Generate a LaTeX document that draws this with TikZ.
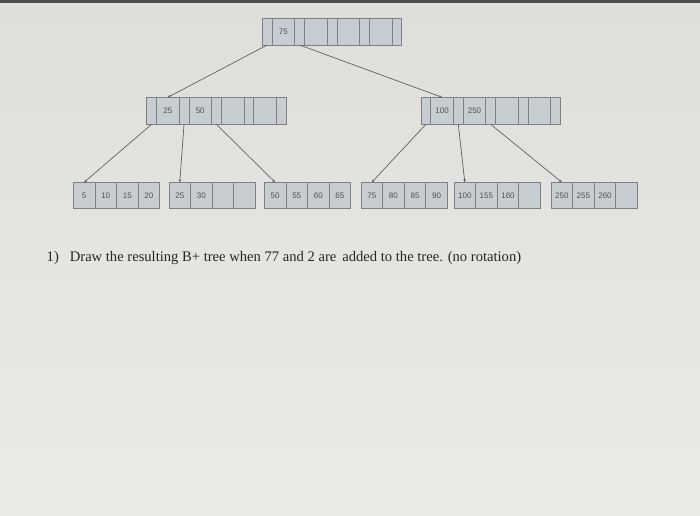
\documentclass[tikz,border=0pt]{standalone}
\usepackage{fontspec}
\setmainfont{Liberation Serif}
\newfontfamily\cellfont{Liberation Sans}
\usetikzlibrary{positioning,arrows.meta}

\definecolor{paper}{RGB}{222,222,218}
\definecolor{paperlow}{RGB}{234,234,231}
\definecolor{cellfill}{RGB}{200,205,210}
\definecolor{celledge}{RGB}{125,128,132}
\definecolor{inkgray}{RGB}{80,80,80}

% inner node: pointer, key, pointer, ... (name, x, y, keys)
\newcommand{\innernode}[4]{%
  \node[ptrcell,anchor=north west] (#1-p0) at (#2,#3) {};
  \foreach \k [count=\j, remember=\j as \lastj (initially 0)] in {#4} {
    \node[keycell,right=0pt of #1-p\lastj] (#1-k\j) {\k};
    \node[ptrcell,right=0pt of #1-k\j] (#1-p\j) {};
  }
}
% leaf node: four keys (name, x, y, keys)
\newcommand{\leafnode}[4]{%
  \foreach \k [count=\j, remember=\j as \lastj (initially 0)] in {#4} {
    \ifnum\j=1 \node[leafcell,anchor=north west] (#1-1) at (#2,#3) {\k};
    \else \node[leafcell,right=0pt of #1-\lastj] (#1-\j) {\k}; \fi
  }
}

\begin{document}
\begin{tikzpicture}[x=1pt,y=-1pt,inner sep=0pt,outer sep=0pt,
cell/.style={draw=celledge,fill=cellfill,rectangle,line width=0.8pt,text=inkgray,font=\cellfont\fontsize{8}{9}\selectfont},
ptrcell/.style={cell,minimum width=9.8pt,minimum height=27pt},
keycell/.style={cell,minimum width=22.6pt,minimum height=27pt},
leafcell/.style={cell,minimum width=21.6pt,minimum height=26.5pt},
link/.style={draw=inkgray!90,line width=0.7pt,-{Stealth[length=3pt,width=2.6pt]}}]

\useasboundingbox (0,0) rectangle (700,515);
\fill[top color=paper,bottom color=paperlow] (0,0) rectangle (700,515);
\fill[black!70] (0,0) rectangle (700,2.5);

% index levels
\innernode{root}{262.3}{18}{75,{},{},{}}
\innernode{inl}{146.7}{97.3}{25,50,{},{}}
\innernode{inr}{421}{97.3}{100,250,{},{}}

% leaves
\leafnode{lfa}{73.3}{182.3}{5,10,15,20}
\leafnode{lfb}{169}{182.3}{25,30,{},{}}
\leafnode{lfc}{264.3}{182.3}{50,55,60,65}
\leafnode{lfd}{361}{182.3}{75,80,85,90}
\leafnode{lfe}{454}{182.3}{100,155,160,{}}
\leafnode{lff}{551}{182.3}{250,255,260,{}}

\draw[link] (root-p0.south) -- (inl-k1.north);
\draw[link] (root-p1.south) -- (inr-k1.north);

\draw[link] (inl-p0.south) -- (lfa-1.north);
\draw[link] (inl-p1.south) -- (lfb-1.north);
\draw[link] (inl-p2.south) -- (lfc-1.north);
\draw[link] (inr-p0.south) -- (lfd-1.north);
\draw[link] (inr-p1.south) -- (lfe-1.north);
\draw[link] (inr-p2.south) -- (lff-1.north);

\node[anchor=base west,font=\fontsize{14.6}{17}\selectfont,text=black!85] (question) at (46.7,261)
  {1)\hspace{11pt}Draw the resulting B+ tree when 77 and 2 are\hspace{6pt}added to the tree. (no rotation)};
\end{tikzpicture}
\end{document}
